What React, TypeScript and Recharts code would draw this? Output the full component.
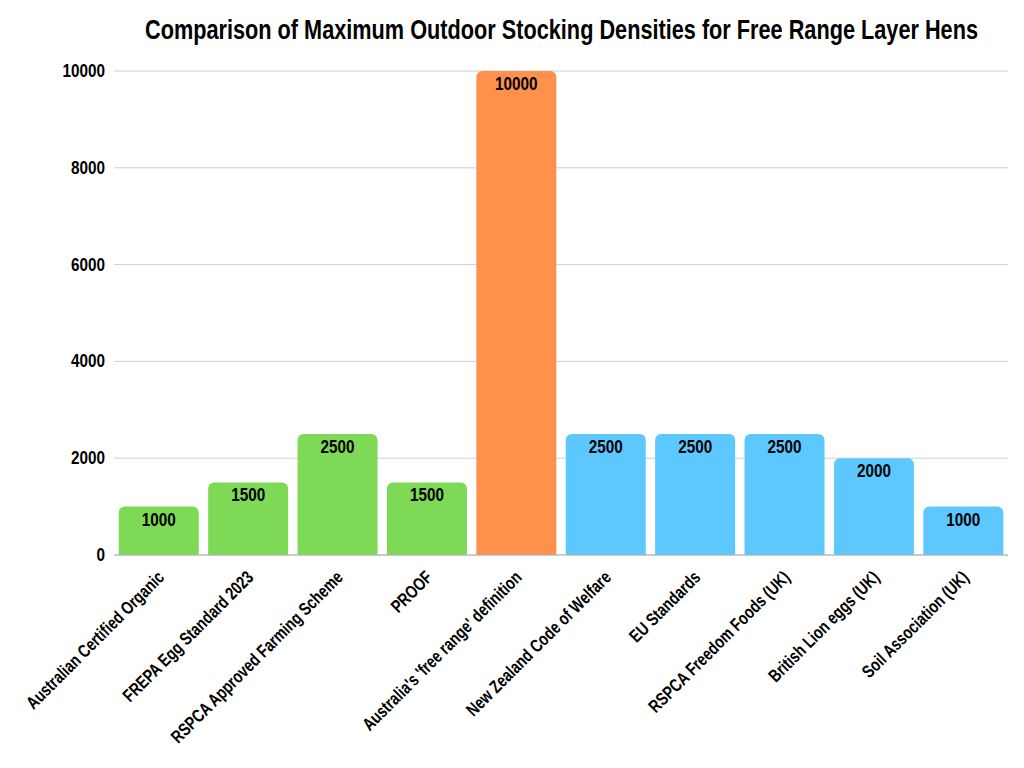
import React from "react";
import { BarChart, Bar, XAxis, YAxis, CartesianGrid, Cell, LabelList } from "recharts";

const title = "Comparison of Maximum Outdoor Stocking Densities for Free Range Layer Hens";
const categories = [
  "Australian Certified Organic",
  "FREPA Egg Standard 2023",
  "RSPCA Approved Farming Scheme",
  "PROOF",
  "Australia's 'free range' definition",
  "New Zealand Code of Welfare",
  "EU Standards",
  "RSPCA Freedom Foods (UK)",
  "British Lion eggs (UK)",
  "Soil Association (UK)",
];
const densities = [1000, 1500, 2500, 1500, 10000, 2500, 2500, 2500, 2000, 1000];
const groups = ["au", "au", "au", "au", "au-def", "intl", "intl", "intl", "intl", "intl"];
const yTicks = [0, 2000, 4000, 6000, 8000, 10000];

const colorMap: Record<string, string> = { au: "#7ED957", "au-def": "#FF914D", intl: "#5CC8FF" };
const FONT = "'Liberation Sans', Arial, sans-serif";

const data = categories.map((name, i) => ({ name, value: densities[i], group: groups[i] }));

const XTick = (props: any) => {
  const { x, y, payload } = props;
  return (
    <g transform={`translate(${x + 3},${y + 12})`}>
      <text transform="rotate(-45) scale(0.78,1)" textAnchor="end" dy={5} fontFamily={FONT} fontWeight="bold" fontSize={18} fill="#000">
        {payload.value}
      </text>
    </g>
  );
};

const YTick = (props: any) => {
  const { x, y, payload } = props;
  return (
    <text transform={`translate(${x},${y}) scale(0.85,1)`} textAnchor="end" dy={6} fontFamily={FONT} fontWeight="bold" fontSize={18} fill="#000">
      {payload.value}
    </text>
  );
};

const ValueLabel = (props: any) => {
  const { x, y, width, value } = props;
  const cx = x + width / 2;
  return (
    <text transform={`translate(${cx},${y + 19}) scale(0.85,1)`} textAnchor="middle" fontFamily={FONT} fontWeight="bold" fontSize={18} fill="#000">
      {value}
    </text>
  );
};

export default function App() {
  return (
    <div style={{ position: "absolute", left: 0, top: 0, width: 1024, height: 768, background: "#fff" }}>
      <BarChart
        width={1024}
        height={768}
        data={data}
        margin={{ top: 71, right: 16, bottom: 0, left: 54 }}
        barCategoryGap="5.3%"
      >
        <text x={145} y={39} textLength={833} lengthAdjust="spacingAndGlyphs" fontFamily={FONT} fontWeight="bold" fontSize={28} fill="#000">
          {title}
        </text>
        <CartesianGrid vertical={false} stroke="#d0d0d0" />
        <XAxis
          dataKey="name"
          interval={0}
          height={213}
          tick={<XTick />}
          tickLine={false}
          axisLine={{ stroke: "#b0b0b0" }}
        />
        <YAxis
          ticks={yTicks}
          domain={[0, 10000]}
          width={60}
          tickLine={false}
          axisLine={false}
          tickMargin={3}
          tick={<YTick />}
        />
        <Bar dataKey="value" isAnimationActive={false} radius={[6, 6, 0, 0]}>
          {data.map((d, i) => (
            <Cell key={i} fill={colorMap[d.group]} />
          ))}
          <LabelList dataKey="value" content={<ValueLabel />} />
        </Bar>
      </BarChart>
    </div>
  );
}
